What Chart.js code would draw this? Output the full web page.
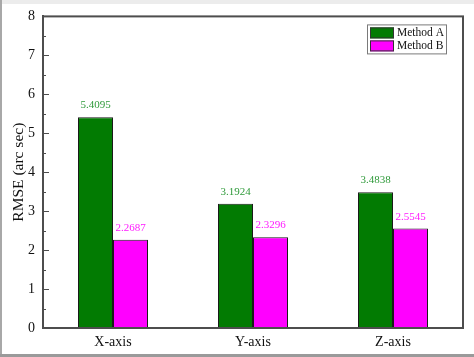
<!DOCTYPE html>
<html>
<head>
<meta charset="utf-8">
<script src="https://cdn.jsdelivr.net/npm/chart.js@4/dist/chart.umd.min.js"></script>
<style>
  body { margin: 0; background: #fff; }
  #wrap { position: relative; width: 474px; height: 357px; }
  #frameTop { position: absolute; left: 0; top: 0; width: 474px; height: 4px; background: #ececec; }
  #frameLeft { position: absolute; left: 0; top: 0; width: 2px; height: 357px; background: #a8a8a8; }
  #frameBottom { position: absolute; left: 0; top: 354px; width: 474px; height: 3px; background: #9a9a9a; }
</style>
</head>
<body>
<div id="wrap">
  <canvas id="rmseChart" width="474" height="357"></canvas>
  <div id="frameTop"></div>
  <div id="frameLeft"></div>
  <div id="frameBottom"></div>
</div>
<script>
// ===== Data =====
const axes = ['X-axis', 'Y-axis', 'Z-axis'];
const methodA = [5.4095, 3.1924, 3.4838];
const methodB = [2.2687, 2.3296, 2.5545];
const yTicks = [0, 1, 2, 3, 4, 5, 6, 7, 8];

const serif = "'Liberation Serif', 'DejaVu Serif', serif";
const frameColor = '#4d4d4d';

// ===== Plugins =====
// box + inward ticks
const boxPlugin = {
  id: 'boxPlugin',
  afterDraw(chart) {
    const { ctx, chartArea: a, scales } = chart;
    const y = scales.y;
    ctx.save();
    ctx.strokeStyle = frameColor;
    ctx.lineWidth = 2;
    ctx.strokeRect(a.left, a.top, a.right - a.left, a.bottom - a.top);
    ctx.lineWidth = 1;
    for (let v = 0; v <= 8; v += 0.5) {
      const py = Math.round(y.getPixelForValue(v)) + 0.5;
      const len = Number.isInteger(v) ? 6 : 3;
      ctx.beginPath();
      ctx.moveTo(a.left, py);
      ctx.lineTo(a.left + len, py);
      ctx.stroke();
    }
    ctx.restore();
  }
};

// value labels above bars
const valuePlugin = {
  id: 'valuePlugin',
  afterDatasetsDraw(chart) {
    const { ctx } = chart;
    ctx.save();
    ctx.font = '11px ' + serif;
    ctx.textAlign = 'center';
    ctx.textBaseline = 'alphabetic';
    chart.data.datasets.forEach((ds, i) => {
      chart.getDatasetMeta(i).data.forEach((bar, j) => {
        ctx.fillStyle = ds.labelColor;
        ctx.fillText(ds.data[j].toFixed(4), bar.x, bar.y - 9);
      });
    });
    ctx.restore();
  }
};

// boxed legend top-right
const legendPlugin = {
  id: 'legendPlugin',
  afterDraw(chart) {
    const { ctx, chartArea: a } = chart;
    const x = a.right - 96, y = a.top + 8, w = 79, h = 29;
    ctx.save();
    ctx.fillStyle = '#fff';
    ctx.fillRect(x, y, w, h);
    ctx.strokeStyle = '#7a7a7a';
    ctx.lineWidth = 1;
    ctx.strokeRect(x + 0.5, y + 0.5, w, h);
    ctx.font = '11.5px ' + serif;
    ctx.textBaseline = 'middle';
    chart.data.datasets.forEach((ds, i) => {
      const ry = y + 3 + i * 13;
      ctx.fillStyle = ds.backgroundColor;
      ctx.fillRect(x + 3, ry, 24, 11);
      ctx.strokeStyle = '#333';
      ctx.strokeRect(x + 3.5, ry + 0.5, 23, 10);
      ctx.fillStyle = '#111';
      ctx.fillText(ds.label, x + 30, ry + 6);
    });
    ctx.restore();
  }
};

// ===== Chart =====
const ctx = document.getElementById('rmseChart').getContext('2d');
new Chart(ctx, {
  type: 'bar',
  data: {
    labels: axes,
    datasets: [
      { label: 'Method A', data: methodA, backgroundColor: '#027b02', borderColor: '#1a1a1a', borderWidth: 1, borderSkipped: false, labelColor: '#2f9a3a' },
      { label: 'Method B', data: methodB, backgroundColor: '#ff00ff', borderColor: '#1a1a1a', borderWidth: 1, borderSkipped: false, labelColor: '#ff1aff' }
    ]
  },
  options: {
    responsive: false,
    animation: false,
    categoryPercentage: 0.5,
    barPercentage: 1.0,
    layout: { padding: { top: 16, right: 11, left: 0, bottom: 0 } },
    plugins: { legend: { display: false }, tooltip: { enabled: false } },
    scales: {
      x: {
        grid: { display: false, drawTicks: false },
        border: { color: frameColor, width: 2 },
        ticks: { color: '#111', font: { family: serif, size: 14 }, padding: 6 },
        afterFit(s) { s.height = 29; }
      },
      y: {
        min: 0, max: 8,
        grid: { display: false, drawTicks: false },
        border: { color: frameColor, width: 2 },
        afterBuildTicks(s) { s.ticks = yTicks.map(v => ({ value: v })); },
        ticks: { color: '#111', font: { family: serif, size: 14 }, padding: 8 },
        title: { display: true, text: 'RMSE (arc sec)', color: '#111', font: { family: serif, size: 15.5 }, padding: { top: 10, bottom: 0 } },
        afterFit(s) { s.width = 43; }
      }
    }
  },
  plugins: [boxPlugin, valuePlugin, legendPlugin]
});
</script>
</body>
</html>
